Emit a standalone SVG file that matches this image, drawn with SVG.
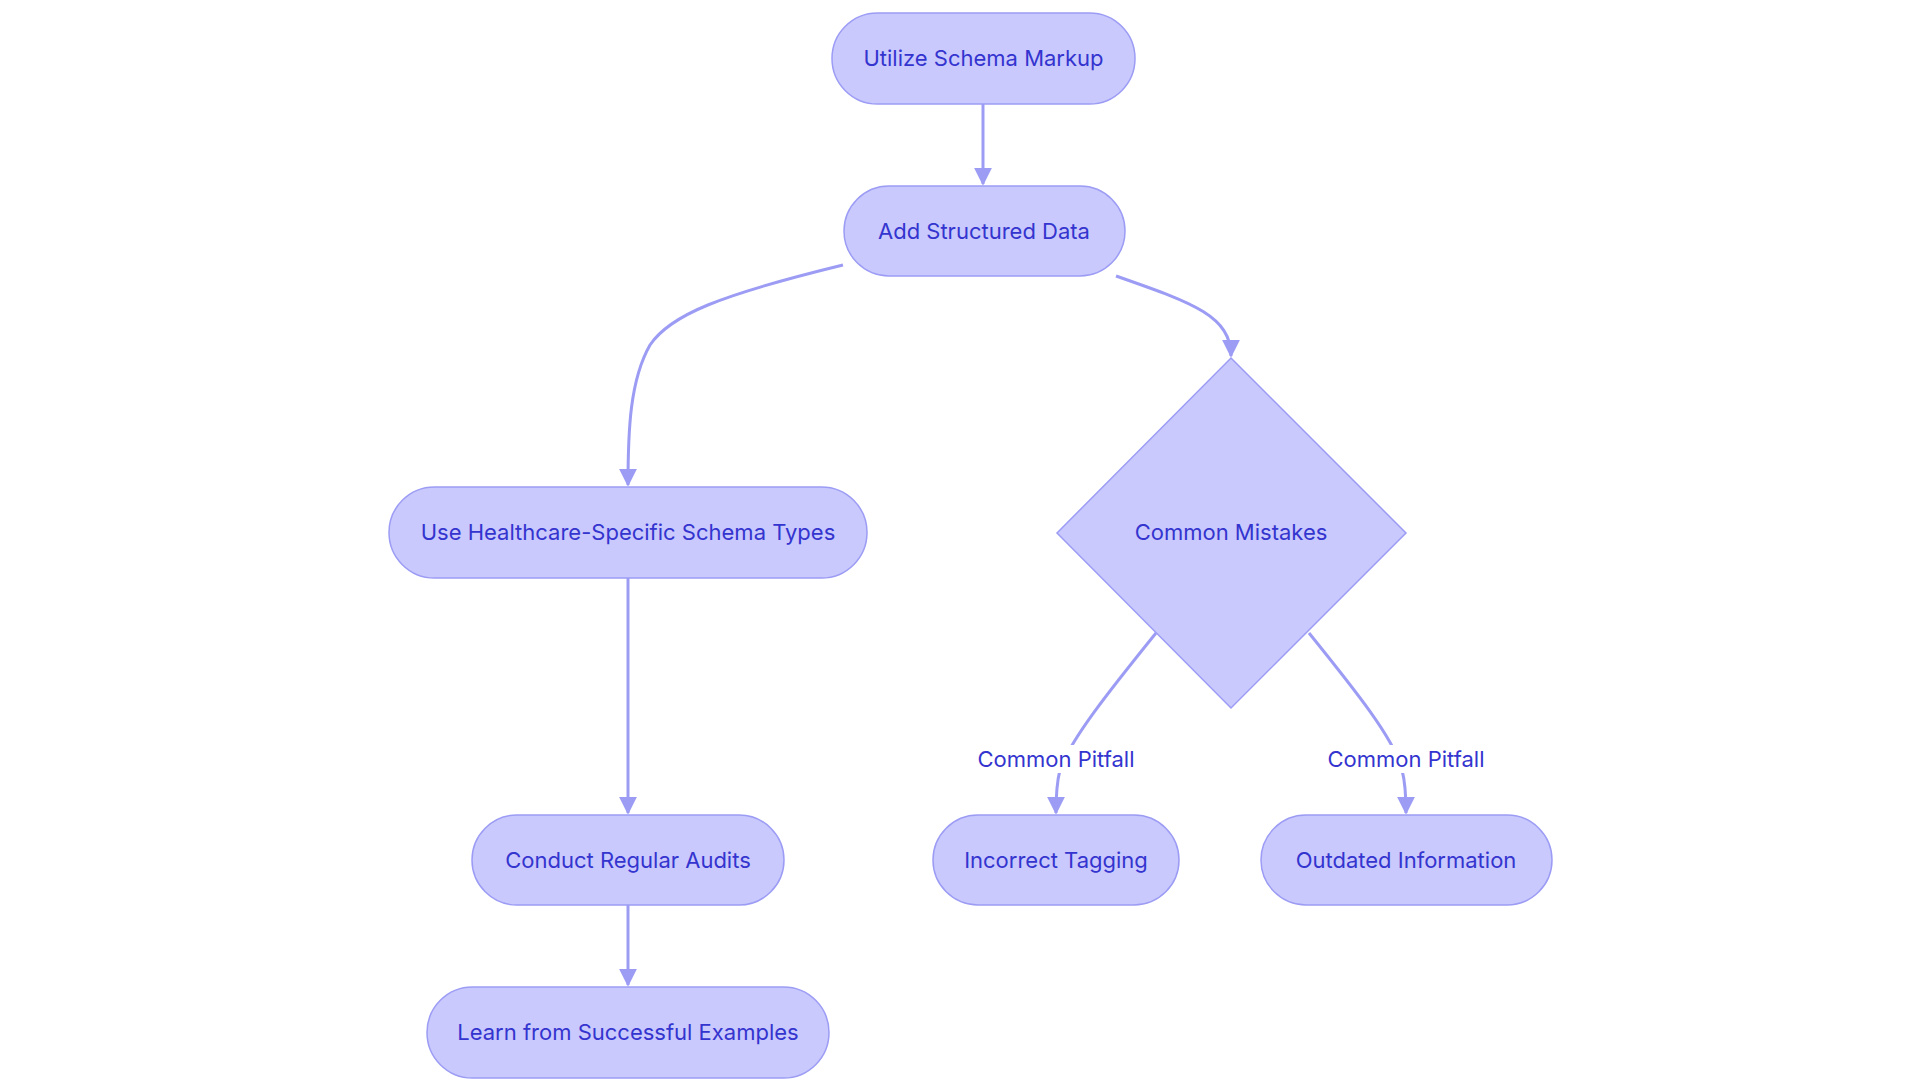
<svg xmlns="http://www.w3.org/2000/svg" width="1920" height="1083" viewBox="0 0 1920 1083">
<style>
.n{fill:#c9c9fd;stroke:#9c9cf5;stroke-width:1.5}
.t{font-family:Inter,"Liberation Sans",sans-serif;font-size:22px;fill:#3434cf;text-anchor:middle;dominant-baseline:central}
.e{fill:none;stroke:#9c9cf5;stroke-width:3}
.lb{fill:#fff}
</style>
<defs><marker id="a" viewBox="0 0 10 10" refX="9" refY="5" markerWidth="6" markerHeight="6" markerUnits="strokeWidth" orient="auto"><path d="M0,0L10,5L0,10z" fill="#9c9cf5"/></marker></defs>
<rect width="1920" height="1083" fill="#fff"/>
<g id="edges">
<path class="e" marker-end="url(#a)" d="M983,104V184"/>
<path class="e" marker-end="url(#a)" d="M843,265C720,295 670,315 650,345C630,380 628,430 628,485"/>
<path class="e" marker-end="url(#a)" d="M1116,276C1190,302 1231,315 1231,356"/>
<path class="e" marker-end="url(#a)" d="M628,578V813"/>
<path class="e" marker-end="url(#a)" d="M628,905V985"/>
<path class="e" marker-end="url(#a)" d="M1156,633C1110,690 1070,740 1060,770C1056,785 1056,800 1056,813"/>
<path class="e" marker-end="url(#a)" d="M1309,633C1355,690 1395,740 1402,770C1406,785 1406,800 1406,813"/>
<rect class="lb" x="976" y="745" width="160" height="28"/>
<rect class="lb" x="1326" y="745" width="160" height="28"/>
<text class="t" x="1056" y="759">Common Pitfall</text>
<text class="t" x="1406" y="759">Common Pitfall</text>
</g>
<g id="n1"><rect class="n" x="832" y="13" width="303" height="91" rx="45.5"/><text class="t" x="983.5" y="58">Utilize Schema Markup</text></g>
<g id="n2"><rect class="n" x="844" y="186" width="281" height="90" rx="45"/><text class="t" x="984" y="231">Add Structured Data</text></g>
<g id="n3"><rect class="n" x="389" y="487" width="478" height="91" rx="45.5"/><text class="t" x="628" y="532">Use Healthcare-Specific Schema Types</text></g>
<g id="n4"><polygon class="n" points="1231,358 1406,533 1231,708 1057,533"/><text class="t" x="1231" y="532">Common Mistakes</text></g>
<g id="n5"><rect class="n" x="472" y="815" width="312" height="90" rx="45"/><text class="t" x="628" y="860">Conduct Regular Audits</text></g>
<g id="n6"><rect class="n" x="427" y="987" width="402" height="91" rx="45.5"/><text class="t" x="628" y="1032">Learn from Successful Examples</text></g>
<g id="n7"><rect class="n" x="933" y="815" width="246" height="90" rx="45"/><text class="t" x="1056" y="860">Incorrect Tagging</text></g>
<g id="n8"><rect class="n" x="1261" y="815" width="291" height="90" rx="45"/><text class="t" x="1406" y="860">Outdated Information</text></g>
</svg>
